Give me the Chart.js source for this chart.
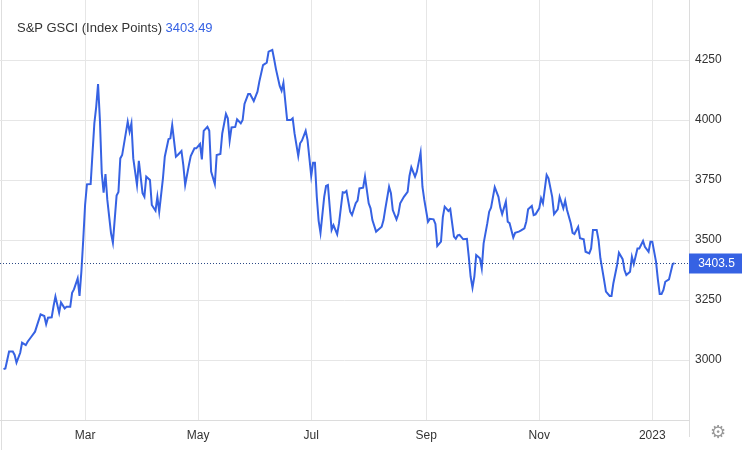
<!DOCTYPE html>
<html lang="en">
<head>
<meta charset="UTF-8">
<title>S&amp;P GSCI</title>
<style>
  body { margin: 0; background: #fff; font-family: "Liberation Sans", Arial, sans-serif; }
  #wrap { position: relative; width: 742px; height: 450px; }
  #title { position: absolute; left: 17px; top: 20px; font-size: 13px; color: #333; white-space: nowrap; }
  #title span { color: #3662e3; }
  #gear { position: absolute; left: 710px; top: 421px; font-size: 18px; color: #999; font-family: "DejaVu Sans", sans-serif; }
</style>
</head>
<body>
<div id="wrap">
  <canvas id="myChart"></canvas>
  <div id="title">S&amp;P GSCI (Index Points) <span>3403.49</span></div>
  <div id="gear">⚙</div>
</div>

<script src="https://cdn.jsdelivr.net/npm/chart.js"></script>
<script>
// days counted from 1 Jan 2022 (0 = Jan 1)
const days = [15,16,18,20,21,22,24,25,27,28,30,32,33,35,37,38,39,41,42,43,45,46,48,49,51,52,53,55,56,57,
  58,59,60,62,63,64,65,66,67,68,69,70,71,73,74,76,77,78,79,82,83,84,85,87,88,90,91,92,94,95,
  97,98,99,101,102,104,105,106,108,109,111,112,113,115,116,118,119,121,122,123,125,126,127,129,130,132,133,135,136,137,
  138,140,141,143,144,145,147,148,150,152,153,155,157,158,160,161,162,164,165,166,168,170,171,172,174,175,176,178,179,181,
  182,183,184,185,186,188,189,190,192,193,195,196,198,199,200,202,203,205,206,207,209,210,212,213,214,216,217,219,220,221,
  223,224,225,227,228,229,231,233,234,235,237,238,240,241,242,244,245,247,248,249,251,252,253,255,256,258,259,260,261,263,
  265,266,267,268,269,270,272,273,274,276,277,278,280,282,283,284,286,287,288,290,291,293,294,296,297,298,300,301,302,304,
  305,306,308,309,311,312,314,315,317,318,319,321,322,323,325,326,328,329,331,332,333,335,336,337,339,340,342,343,344,346,
  347,349,350,351,353,354,355,357,358,360,361,363,364,365,367,368,369,370,371,372,374,376,377];

const gsci = [2962,2965,3035,3035,3021,2989,3030,3072,3062,3076,3097,3118,3142,3190,3183,3149,3176,3178,3225,3264,3197,3240,3215,3222,3222,3280,3294,3340,3267,3368,
  3500,3646,3732,3733,3861,3986,4055,4150,4000,3778,3697,3775,3667,3528,3489,3685,3700,3840,3854,3993,3951,3986,3840,3729,3830,3695,3680,3764,3750,3646,
  3622,3680,3618,3757,3847,3920,3924,3979,3847,3854,3871,3812,3729,3812,3850,3882,3882,3900,3836,3955,3972,3955,3785,3733,3854,3858,3944,4025,4007,3914,
  3969,3971,4003,3986,4000,4067,4108,4108,4079,4118,4160,4229,4239,4285,4292,4253,4211,4142,4122,4155,4000,4000,4007,3944,3850,3903,3914,3955,3917,3767,
  3822,3822,3680,3580,3530,3680,3725,3729,3542,3562,3524,3570,3699,3697,3704,3618,3604,3653,3664,3715,3718,3764,3653,3632,3583,3535,3542,3555,3583,3632,
  3722,3695,3625,3586,3608,3653,3680,3701,3767,3803,3764,3785,3864,3722,3667,3576,3588,3586,3567,3475,3493,3595,3639,3621,3629,3514,3505,3519,3521,3503,
  3505,3430,3347,3301,3347,3437,3424,3382,3486,3570,3618,3635,3720,3680,3635,3608,3660,3576,3570,3510,3530,3535,3539,3549,3576,3628,3642,3604,3607,3632,
  3674,3653,3771,3757,3680,3608,3628,3680,3632,3664,3625,3570,3530,3525,3555,3507,3503,3451,3444,3465,3542,3542,3500,3424,3333,3285,3267,3267,3320,3396,
  3447,3420,3375,3354,3368,3430,3400,3465,3465,3496,3472,3451,3493,3493,3410,3336,3275,3275,3292,3326,3336,3400,3403.49];

const monthTicks = [59, 120, 181, 243, 304, 365];
const monthLabels = ['Mar', 'May', 'Jul', 'Sep', 'Nov', '2023'];
const yTicks = [3000, 3250, 3500, 3750, 4000, 4250];
const lastValue = 3403.49;

const blue = '#3662e3';
const gridColor = '#e6e6e6';

// dotted last-price line + blue label on the right
const lastPrice = {
  id: 'lastPrice',
  afterDatasetsDraw(chart) {
    const { ctx, chartArea, scales } = chart;
    const y = Math.round(scales.y.getPixelForValue(lastValue)) + 0.5;
    ctx.save();
    ctx.strokeStyle = '#2c4a86';
    ctx.lineWidth = 1;
    ctx.setLineDash([1, 2]);
    ctx.beginPath();
    ctx.moveTo(chartArea.left, y);
    ctx.lineTo(chartArea.right, y);
    ctx.stroke();
    ctx.setLineDash([]);
    ctx.fillStyle = blue;
    ctx.fillRect(chartArea.right, y - 10, chart.width - chartArea.right, 20);
    ctx.fillStyle = '#fff';
    ctx.font = '12px "Liberation Sans", Arial, sans-serif';
    ctx.textAlign = 'center';
    ctx.textBaseline = 'middle';
    ctx.fillText(lastValue.toFixed(1), (chartArea.right + chart.width) / 2 + 1, y);
    ctx.restore();
  },
  beforeDraw(chart) {
    const { ctx, chartArea } = chart;
    ctx.save();
    ctx.strokeStyle = '#dedede';
    ctx.lineWidth = 1;
    ctx.beginPath();
    ctx.moveTo(1.5, 0);
    ctx.lineTo(1.5, chart.height);
    ctx.moveTo(Math.round(chartArea.right) + 0.5, chartArea.bottom);
    ctx.lineTo(Math.round(chartArea.right) + 0.5, chartArea.bottom + 17);
    ctx.stroke();
    ctx.restore();
  }
};

const ctx = document.getElementById('myChart');
new Chart(ctx, {
  type: 'line',
  data: {
    datasets: [{
      label: 'S&P GSCI',
      data: days.map((d, i) => ({ x: d, y: gsci[i] })),
      borderColor: blue,
      borderWidth: 2,
      pointRadius: 0,
      tension: 0,
      fill: false
    }]
  },
  options: {
    responsive: true,
    maintainAspectRatio: false,
    animation: false,
    layout: { padding: 0 },
    plugins: {
      legend: { display: false },
      tooltip: { enabled: false }
    },
    scales: {
      x: {
        type: 'linear',
        min: 13.1,
        max: 384.8,
        afterBuildTicks: (scale) => { scale.ticks = monthTicks.map(v => ({ value: v })); },
        afterFit: (scale) => { scale.height = 30; scale.paddingLeft = 0; scale.paddingRight = 0; },
        grid: { color: gridColor, drawTicks: false },
        border: { color: '#dcdcdc' },
        ticks: {
          autoSkip: false,
          maxRotation: 0,
          padding: 8,
          color: '#333',
          font: { family: '"Liberation Sans", Arial, sans-serif', size: 12 },
          callback: (v) => monthLabels[monthTicks.indexOf(v)]
        }
      },
      y: {
        position: 'right',
        min: 2750,
        max: 4500,
        afterBuildTicks: (scale) => { scale.ticks = yTicks.map(v => ({ value: v })); },
        afterFit: (scale) => { scale.width = 53; scale.paddingTop = 0; scale.paddingBottom = 0; },
        grid: { color: gridColor, drawTicks: false },
        border: { color: '#dcdcdc' },
        ticks: {
          padding: 6,
          color: '#333',
          font: { family: '"Liberation Sans", Arial, sans-serif', size: 12 },
          callback: (v) => String(v)
        }
      }
    }
  },
  plugins: [lastPrice]
});
</script>
</body>
</html>
